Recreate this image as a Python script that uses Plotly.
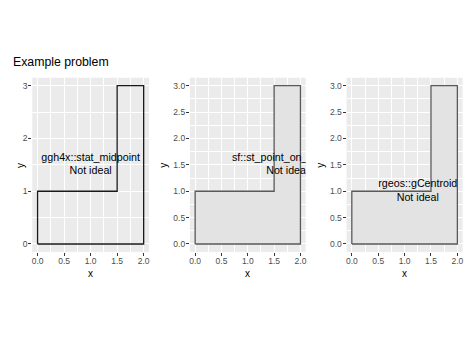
import plotly.graph_objects as go

# polygon (L-shape) outline
poly_x = [0, 2, 2, 1.5, 1.5, 0, 0]
poly_y = [0, 0, 3, 3, 1, 1, 0]

# label positions and texts per panel
label_texts = ["ggh4x::stat_midpoint<br>Not ideal",
               "sf::st_point_on_surface<br>Not ideal",
               "rgeos::gCentroid<br>Not ideal"]
label_x = [1.0, 1.75, 1.25]
label_y = [1.5, 1.5, 1.0]

x_ticks = [0.0, 0.5, 1.0, 1.5, 2.0]
x_ticklabels = ["0.0", "0.5", "1.0", "1.5", "2.0"]
y_ticks_p1 = [0, 1, 2, 3]
y_ticklabels_p1 = ["0", "1", "2", "3"]
y_ticks_p23 = [0.0, 0.5, 1.0, 1.5, 2.0, 2.5, 3.0]
y_ticklabels_p23 = ["0.0", "0.5", "1.0", "1.5", "2.0", "2.5", "3.0"]

W, H = 474, 338
FONT = "Liberation Sans, Arial, sans-serif"

fig = go.Figure()

# panel specs: x-domain pixels
xdom_px = [(31.4, 148.6), (189.7, 306.0), (347.0, 463.6)]
ydom = [1 - 251.9 / H, 1 - 77.8 / H]

fills = [None, "#e3e3e3", "#e3e3e3"]
lines = ["#1a1a1a", "#595959", "#595959"]

for i in range(3):
    xa = "x" if i == 0 else f"x{i+1}"
    ya = "y" if i == 0 else f"y{i+1}"
    fig.add_trace(go.Scatter(
        x=poly_x, y=poly_y, mode="lines",
        line=dict(color=lines[i], width=1.3),
        fill="toself" if fills[i] else None,
        fillcolor=fills[i] if fills[i] else None,
        xaxis=xa, yaxis=ya, showlegend=False, hoverinfo="skip"))
    fig.add_trace(go.Scatter(
        x=[label_x[i]], y=[label_y[i]], mode="text",
        text=[label_texts[i]], textposition="middle center",
        textfont=dict(family=FONT, size=10.7, color="black"),
        cliponaxis=True,
        xaxis=xa, yaxis=ya, showlegend=False, hoverinfo="skip"))

axis_common = dict(
    showgrid=True, gridcolor="white", gridwidth=1,
    zeroline=False, showline=False,
    ticks="outside", ticklen=3, tickcolor="#333333", tickwidth=1,
    tickfont=dict(family=FONT, size=8.5, color="#4d4d4d"),
)

layout = dict(
    width=W, height=H, margin=dict(l=0, r=0, t=0, b=0),
    paper_bgcolor="white", plot_bgcolor="#ebebeb",
    showlegend=False,
)

for i in range(3):
    xk = "xaxis" if i == 0 else f"xaxis{i+1}"
    yk = "yaxis" if i == 0 else f"yaxis{i+1}"
    xa = "x" if i == 0 else f"x{i+1}"
    ya = "y" if i == 0 else f"y{i+1}"
    layout[xk] = dict(
        axis_common, domain=[xdom_px[i][0] / W, xdom_px[i][1] / W],
        range=[-0.1, 2.1], tickvals=x_ticks, ticktext=x_ticklabels,
        anchor=ya, ticklabelstandoff=-2,
        minor=dict(showgrid=True, gridcolor="white", gridwidth=0.5,
                   tickvals=[0.25, 0.75, 1.25, 1.75]))
    if i == 0:
        yt, ytl, ymin = y_ticks_p1, y_ticklabels_p1, [0.5, 1.5, 2.5]
    else:
        yt, ytl, ymin = y_ticks_p23, y_ticklabels_p23, [0.25, 0.75, 1.25, 1.75, 2.25, 2.75]
    layout[yk] = dict(
        axis_common, domain=ydom, range=[-0.15, 3.15],
        tickvals=yt, ticktext=ytl, anchor=xa, ticklabelstandoff=-1,
        minor=dict(showgrid=True, gridcolor="white", gridwidth=0.5, tickvals=ymin))

fig.update_layout(**layout)

annotations = []
# title
annotations.append(dict(text="Example problem", x=10 / W, y=1 - 62 / H,
                        xref="paper", yref="paper", xanchor="left", yanchor="middle",
                        showarrow=False, font=dict(family=FONT, size=12.3, color="black")))
# x axis titles
for i in range(3):
    cx = (xdom_px[i][0] + xdom_px[i][1]) / 2
    annotations.append(dict(text="x", x=cx / W, y=1 - 273 / H, xref="paper", yref="paper",
                            xanchor="center", yanchor="middle", showarrow=False,
                            font=dict(family=FONT, size=10, color="black")))
ylab_x = [20.0, 163.5, 321.0]
for i in range(3):
    annotations.append(dict(text="y", x=ylab_x[i] / W, y=1 - 165 / H, xref="paper", yref="paper",
                            xanchor="center", yanchor="middle", showarrow=False, textangle=-90,
                            font=dict(family=FONT, size=10, color="black")))
fig.update_layout(annotations=annotations)

fig.write_html("out.html")
